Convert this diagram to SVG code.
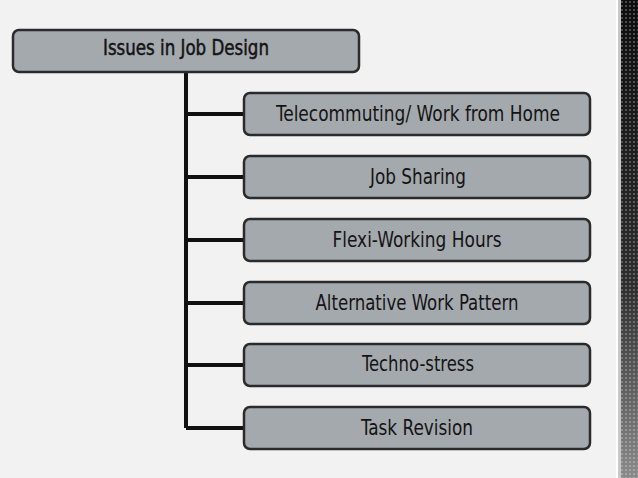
<svg xmlns="http://www.w3.org/2000/svg" width="638" height="478" viewBox="0 0 638 478">
<defs>
<style>
.box{fill:#a4a9ae;stroke:#2b2b2b;stroke-width:2.5}
.t{font-family:"DejaVu Sans Condensed","DejaVu Sans",sans-serif;font-size:21px;fill:#141414;text-anchor:middle;dominant-baseline:central}
.c{stroke:#111;stroke-width:4;fill:none}
</style>
<linearGradient id="strip" x1="0" y1="0" x2="0" y2="1">
<stop offset="0" stop-color="#0d0d0d"/>
<stop offset="0.6" stop-color="#2e2e2e"/>
<stop offset="1" stop-color="#8a8a8a"/>
</linearGradient>
<pattern id="dots" width="4" height="4" patternUnits="userSpaceOnUse">
<circle cx="2" cy="2" r="1.1" fill="#ffffff" fill-opacity="0.3"/>
</pattern>
</defs>
<rect width="638" height="478" fill="#f2f2f2"/>
<rect x="616" y="0" width="2" height="478" fill="#ffffff"/>
<rect x="618" y="0" width="3" height="478" fill="#c8c8c8"/>
<rect x="621" y="0" width="17" height="478" fill="url(#strip)"/>
<rect x="621" y="0" width="17" height="478" fill="url(#dots)"/>
<g id="connectors">
<path class="c" d="M186 72 V428"/>
<path class="c" d="M186 114 H244 M186 177 H244 M186 240 H244 M186 303 H244 M186 365 H244 M186 428 H244"/>
</g>
<g id="root"><rect class="box" x="13" y="30" width="346" height="42" rx="6"/><text class="t" x="186" y="48" stroke="#141414" stroke-width="0.5" textLength="166" lengthAdjust="spacingAndGlyphs">Issues in Job Design</text></g>
<g id="n1"><rect class="box" x="244" y="93" width="346" height="42" rx="6"/><text class="t" x="418" y="114" textLength="284" lengthAdjust="spacingAndGlyphs">Telecommuting/ Work from Home</text></g>
<g id="n2"><rect class="box" x="244" y="156" width="346" height="42" rx="6"/><text class="t" x="418" y="177" textLength="96" lengthAdjust="spacingAndGlyphs">Job Sharing</text></g>
<g id="n3"><rect class="box" x="244" y="219" width="346" height="42" rx="6"/><text class="t" x="417" y="240" textLength="169" lengthAdjust="spacingAndGlyphs">Flexi-Working Hours</text></g>
<g id="n4"><rect class="box" x="244" y="282" width="346" height="42" rx="6"/><text class="t" x="417" y="303" textLength="203" lengthAdjust="spacingAndGlyphs">Alternative Work Pattern</text></g>
<g id="n5"><rect class="box" x="244" y="344" width="346" height="42" rx="6"/><text class="t" x="418" y="364" textLength="112" lengthAdjust="spacingAndGlyphs">Techno-stress</text></g>
<g id="n6"><rect class="box" x="244" y="407" width="346" height="42" rx="6"/><text class="t" x="417" y="428" textLength="112" lengthAdjust="spacingAndGlyphs">Task Revision</text></g>
</svg>
